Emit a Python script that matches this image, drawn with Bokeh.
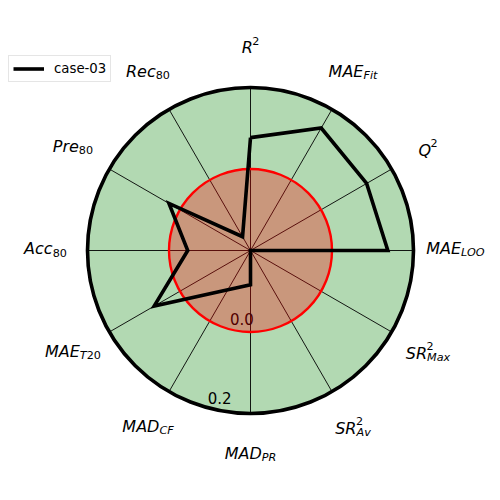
import numpy as np
from bokeh.plotting import figure
from bokeh.models import ColumnDataSource, Legend, LegendItem
from bokeh.embed import file_html
from bokeh.resources import INLINE
from bokeh.core.properties import value

# ---------------- data ----------------
categories = ["R2", "MAE_Fit", "Q2", "MAE_LOO", "SR2_Max", "SR2_Av",
              "MAD_PR", "MAD_CF", "MAE_T20", "Acc_80", "Pre_80", "Rec_80"]
label_main = ["R", "MAE", "Q", "MAE", "SR", "SR", "MAD", "MAD", "MAE", "Acc", "Pre", "Rec"]
label_sup = ["2", "", "2", "", "2", "2", "", "", "", "", "", ""]
label_sub = ["", "Fit", "", "LOO", "Max", "Av", "PR", "CF", "T20", "80", "80", "80"]
case_name = "case-03"
case_values = [0.077, 0.147, 0.129, 0.137, -0.2, -0.2, -0.116, -0.089, 0.073, -0.046, 0.031, -0.161]
r_min, r_max = -0.2, 0.2
threshold = 0.0
rticks = [0.0, 0.2]
rtick_labels = ["0.0", "0.2"]

# ---------------- geometry / style ----------------
R_PX = 163.0          # outer radius in px (data units == px)
HALF = 250
FS_MAIN = 16.0
FS_SCRIPT = 11.2
LABEL_R = 205.0
TEXT_DY = 5.5         # correction for text baseline rendering

def rpx(v):
    return (np.asarray(v, dtype=float) - r_min) / (r_max - r_min) * R_PX

n = len(categories)
theta = np.deg2rad(90.0 - 360.0 / n * np.arange(n))

p = figure(width=2 * HALF, height=2 * HALF, x_range=(-HALF, HALF), y_range=(-HALF, HALF),
           output_backend="svg", toolbar_location=None, min_border=0)
p.axis.visible = False
p.grid.visible = False
p.outline_line_color = None
p.background_fill_color = "white"

# green background disc
p.circle(x=[0], y=[0], radius=[R_PX], fill_color="green", fill_alpha=0.3, line_color=None)

# spokes
p.segment(x0=np.zeros(n), y0=np.zeros(n), x1=R_PX * np.cos(theta), y1=R_PX * np.sin(theta),
          line_color="black", line_width=0.9)

# radial tick labels
lab_ang = np.deg2rad(-105.8)
tr = rpx(rticks)
tx = tr * np.cos(lab_ang) + 13.5
ty = tr * np.sin(lab_ang) + 9.5 - 0.365 * 15 + TEXT_DY
p.text(x=tx, y=ty, text=rtick_labels, text_font=value("DejaVu Sans"), text_font_size="15px",
       text_align="center", text_baseline="alphabetic", text_color="black")

# threshold disc (red)
p.circle(x=[0], y=[0], radius=[float(rpx(threshold))], fill_color="red", fill_alpha=0.3,
         line_color="red", line_width=2.4)

# data polygon
vr = rpx(case_values)
xs = list(vr * np.cos(theta)) + [vr[0] * np.cos(theta[0])]
ys = list(vr * np.sin(theta)) + [vr[0] * np.sin(theta[0])]
line_r = p.line(xs, ys, line_color="black", line_width=3.6, line_join="miter")

# outer spine
p.circle(x=[0], y=[0], radius=[R_PX], fill_color=None, line_color="black", line_width=3.6)

# category labels (mathtext-like, built from pieces)
ADV = {"A": .684, "C": .698, "D": .770, "E": .632, "F": .575, "L": .557, "M": .863,
       "O": .787, "P": .603, "Q": .787, "R": .695, "S": .635, "T": .611, "a": .613,
       "c": .550, "e": .615, "i": .278, "r": .411, "t": .392, "v": .592, "x": .592,
       "0": .636, "2": .636, "8": .636}

def width(s, fs):
    return sum(ADV.get(ch, 0.6) for ch in s) * fs

def runs(s):
    out = []
    for ch in s:
        st = "normal" if ch.isdigit() else "italic"
        if out and out[-1][1] == st:
            out[-1][0] += ch
        else:
            out.append([ch, st])
    return out

CAP = 0.729 * FS_MAIN
SUB_DROP = 4.0
SUP_RISE = 7.0
SUP_GAP = -0.5
tx_, ty_, tt_, tst_, tfs_ = [], [], [], [], []
for i in range(n):
    cx = LABEL_R * np.cos(theta[i])
    cy = LABEL_R * np.sin(theta[i])
    mw = width(label_main[i], FS_MAIN)
    sw = max(width(label_sup[i], FS_SCRIPT) + (SUP_GAP if label_sup[i] else 0.0),
             width(label_sub[i], FS_SCRIPT))
    top = CAP
    if label_sup[i]:
        top = max(top, SUP_RISE + 0.729 * FS_SCRIPT)
    bottom = -SUB_DROP if label_sub[i] else 0.0
    base = cy - (top + bottom) / 2.0 + TEXT_DY
    x0 = cx - (mw + sw) / 2.0
    tx_.append(x0); ty_.append(base); tt_.append(label_main[i]); tst_.append("italic"); tfs_.append(f"{FS_MAIN}px")
    for txt, yb, extra in ((label_sup[i], base + SUP_RISE, SUP_GAP), (label_sub[i], base - SUB_DROP, 0.0)):
        xx = x0 + mw + extra
        for s, st in runs(txt):
            tx_.append(xx); ty_.append(yb); tt_.append(s); tst_.append(st); tfs_.append(f"{FS_SCRIPT}px")
            xx += width(s, FS_SCRIPT)

src = ColumnDataSource(dict(x=tx_, y=ty_, text=tt_, style=tst_, fs=tfs_))
p.text(x="x", y="y", text="text", source=src, text_font=value("DejaVu Sans"),
       text_font_style="style", text_font_size="fs", text_align="left",
       text_baseline="alphabetic", text_color="black")

# legend
legend = Legend(items=[LegendItem(label=case_name, renderers=[line_r])],
                location=(8, 418), orientation="vertical",
                label_text_font="DejaVu Sans", label_text_font_size="13.3px",
                label_text_color="black",
                glyph_width=31, glyph_height=17, label_height=17, label_standoff=10,
                padding=4, margin=0, spacing=0,
                border_line_color="#cccccc", border_line_width=1,
                background_fill_color="white", background_fill_alpha=0.8)
p.add_layout(legend, "center")

open("out.html", "w").write(file_html(p, INLINE))
